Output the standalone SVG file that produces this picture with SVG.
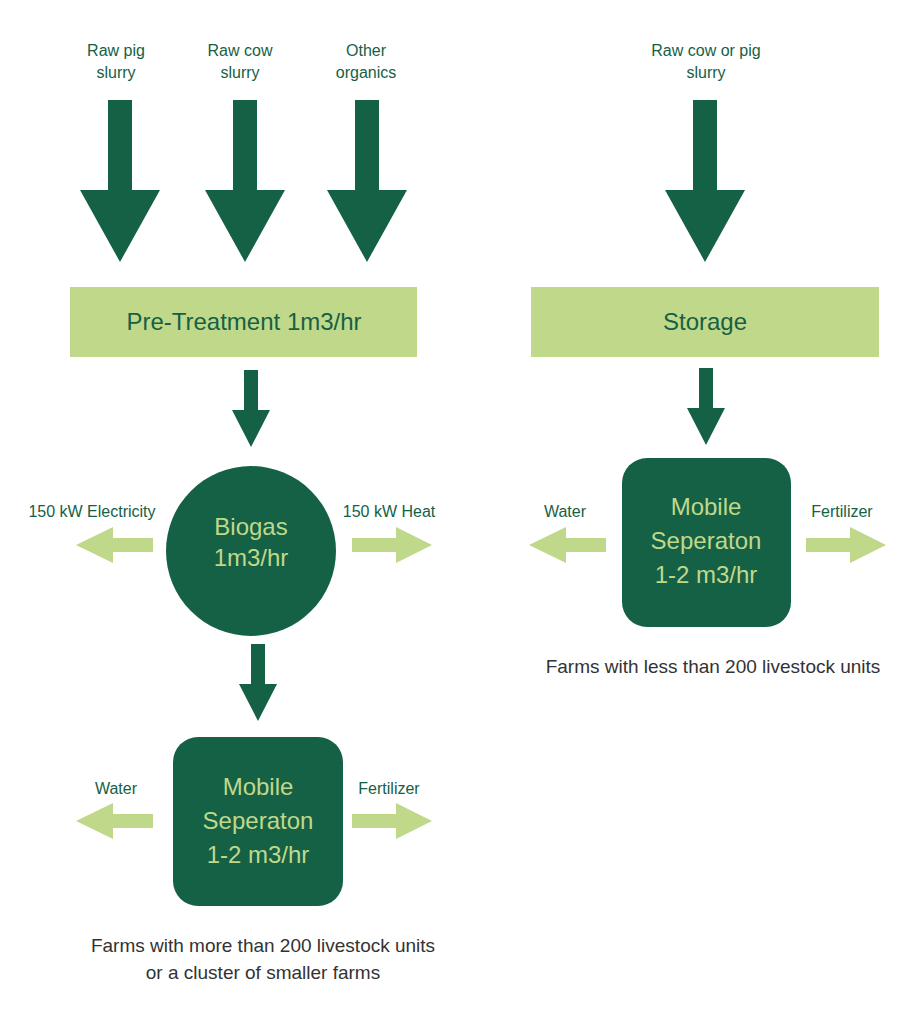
<svg xmlns="http://www.w3.org/2000/svg" width="914" height="1024" viewBox="0 0 914 1024">
<style>
.d{fill:#156146}.l{fill:#c0d88a}
.t{font-family:"Liberation Sans",Arial,sans-serif;font-size:16px;fill:#156146;text-anchor:middle}
.n{font-family:"Liberation Sans",Arial,sans-serif;font-size:24px;fill:#c0d88a;text-anchor:middle}
.b{font-family:"Liberation Sans",Arial,sans-serif;font-size:24px;fill:#156146;text-anchor:middle}
.f{font-family:"Liberation Sans",Arial,sans-serif;font-size:19px;fill:#333;text-anchor:middle}
</style>
<defs>
<path id="big" d="M-12,0 H12 V90 H40 L0,162 L-40,90 H-12 Z"/>
<path id="sm" d="M-7,0 H7 V40 H19 L0,77 L-19,40 H-7 Z"/>
<path id="la" d="M0,-7 H-40 V-18 L-77,0 L-40,18 V7 H0 Z"/>
<path id="ra" d="M0,-7 H44 V-18 L80,0 L44,18 V7 H0 Z"/>
</defs>
<rect width="914" height="1024" fill="#fff"/>
<g id="connectors">
<use href="#big" x="120" y="100" class="d"/>
<use href="#big" x="245" y="100" class="d"/>
<use href="#big" x="367" y="100" class="d"/>
<use href="#big" x="705" y="100" class="d"/>
<use href="#sm" x="251" y="370" class="d"/>
<use href="#sm" x="258" y="644" class="d"/>
<use href="#sm" x="706" y="368" class="d"/>
<use href="#la" x="153" y="545" class="l"/>
<use href="#ra" x="352" y="545" class="l"/>
<use href="#la" x="153" y="821" class="l"/>
<use href="#ra" x="352" y="821" class="l"/>
<use href="#la" x="606" y="545" class="l"/>
<use href="#ra" x="806" y="545" class="l"/>
</g>
<g id="labels">
<text class="t" x="116" y="56">Raw pig</text><text class="t" x="116" y="78">slurry</text>
<text class="t" x="240" y="56">Raw cow</text><text class="t" x="240" y="78">slurry</text>
<text class="t" x="366" y="56">Other</text><text class="t" x="366" y="78">organics</text>
<text class="t" x="706" y="56">Raw cow or pig</text><text class="t" x="706" y="78">slurry</text>
<text class="t" x="92" y="517">150 kW Electricity</text>
<text class="t" x="389" y="517">150 kW Heat</text>
<text class="t" x="116" y="794">Water</text>
<text class="t" x="389" y="794">Fertilizer</text>
<text class="t" x="565" y="517">Water</text>
<text class="t" x="842" y="517">Fertilizer</text>
</g>
<g id="pretreatment"><rect class="l" x="70" y="287" width="347" height="70"/><text class="b" x="244" y="330">Pre-Treatment 1m3/hr</text></g>
<g id="storage"><rect class="l" x="531" y="287" width="348" height="70"/><text class="b" x="705" y="330">Storage</text></g>
<g id="biogas"><circle class="d" cx="251" cy="551" r="85"/><text class="n" x="251" y="535">Biogas</text><text class="n" x="251" y="566">1m3/hr</text></g>
<g id="sep1"><rect class="d" x="173" y="737" width="170" height="169" rx="25"/><text class="n" x="258" y="795">Mobile</text><text class="n" x="258" y="829">Seperaton</text><text class="n" x="258" y="863">1-2 m3/hr</text></g>
<g id="sep2"><rect class="d" x="622" y="458" width="169" height="169" rx="25"/><text class="n" x="706" y="515">Mobile</text><text class="n" x="706" y="549">Seperaton</text><text class="n" x="706" y="583">1-2 m3/hr</text></g>
<g id="notes">
<text class="f" x="263" y="952">Farms with more than 200 livestock units</text>
<text class="f" x="263" y="979">or a cluster of smaller farms</text>
<text class="f" x="713" y="673">Farms with less than 200 livestock units</text>
</g>
</svg>
